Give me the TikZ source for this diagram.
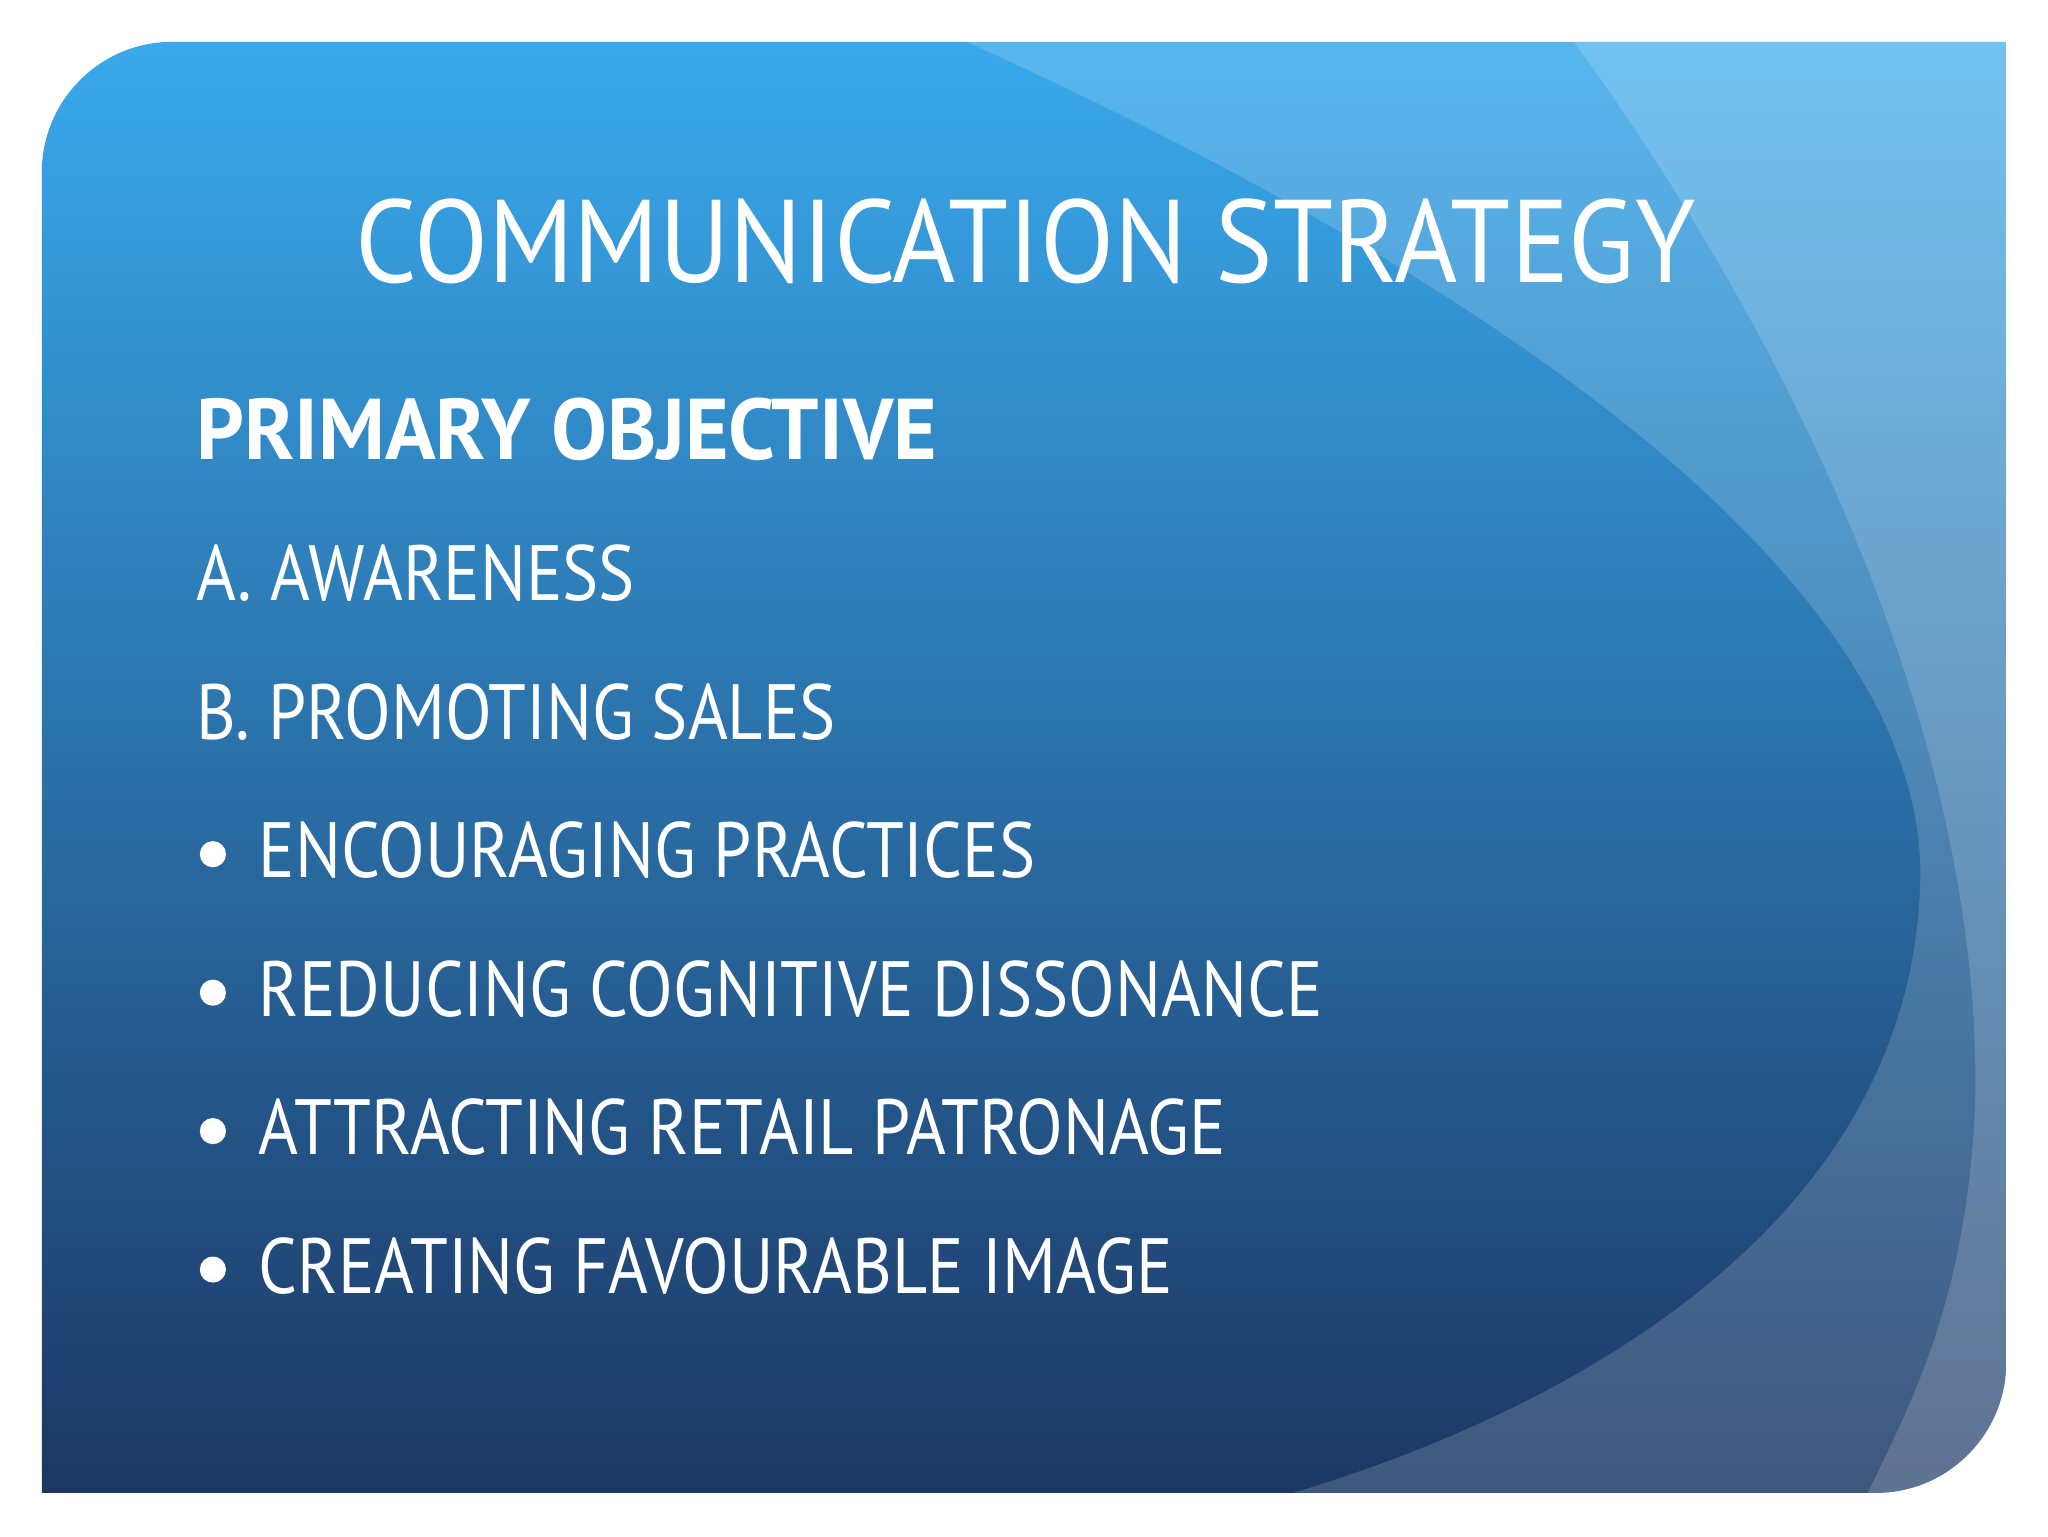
\documentclass[tikz,border=0pt]{standalone}
\usepackage{fontspec}
\setmainfont{PT Sans}
\newcommand{\nar}[2]{\scalebox{#1}[1]{#2}}
\begin{document}
\begin{tikzpicture}[x=1pt,y=-1pt,
  item/.style={anchor=base west,text=white,inner sep=0pt,font=\fontsize{60}{60}\selectfont}]
\definecolor{topc}{HTML}{39A9EC}
\definecolor{botc}{HTML}{1C3764}
\useasboundingbox (0,0) rectangle (1568,1176);
\fill[white] (0,0) rectangle (1568,1176);
\begin{scope}
\path[clip] (32,132) arc[start angle=180,end angle=270,radius=100] -- (1536,32) -- (1536,1043)
  arc[start angle=0,end angle=90,radius=100] -- (32,1143) -- cycle;
\shade[top color=topc,bottom color=botc] (32,32) rectangle (1536,1143);
\fill[white,opacity=0.16] (740,32) .. controls (1200,240) and (1480,470) .. (1470,680)
  .. controls (1460,940) and (1200,1080) .. (990,1143) -- (1540,1143) -- (1540,32) -- cycle;
\fill[white,opacity=0.16] (1205,32) .. controls (1400,300) and (1520,600) .. (1512,850)
  .. controls (1505,1000) and (1460,1080) .. (1430,1143) -- (1540,1143) -- (1540,32) -- cycle;
\end{scope}
\node[anchor=base,text=white,inner sep=0pt,font=\fontsize{90}{90}\selectfont] (t) at (785,216) {\nar{0.92}{COMMUNICATION STRATEGY}};
\node[item,font=\bfseries\fontsize{66}{66}\selectfont] (p) at (150,352) {\nar{0.97}{PRIMARY OBJECTIVE}};
\node[item] (a) at (150,460) {\nar{0.87}{A. AWARENESS}};
\node[item] (b) at (150,566) {\nar{0.87}{B. PROMOTING SALES}};
\foreach \y/\n/\t in {672/c/ENCOURAGING PRACTICES,778/d/REDUCING COGNITIVE DISSONANCE,884/e/ATTRACTING RETAIL PATRONAGE,990/f/CREATING FAVOURABLE IMAGE}{
  \fill[white] (163,\y-18) circle (10);
  \node[item] (\n) at (198,\y) {\nar{0.87}{\t}};
}
\end{tikzpicture}
\end{document}
